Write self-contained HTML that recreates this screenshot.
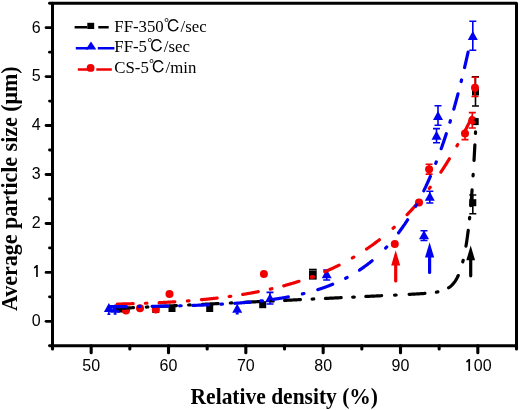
<!DOCTYPE html>
<html><head><meta charset="utf-8"><style>
html,body{margin:0;padding:0;background:#fff;}
body{width:520px;height:410px;overflow:hidden;}
svg{display:block;}
</style></head><body>
<svg width="520" height="410" viewBox="0 0 520 410">
<g><rect x="52.5" y="3.2" width="464.0" height="342.6" fill="none" stroke="#000" stroke-width="3" stroke-linejoin="round"/><path d="M49.5,345.80H52.5" stroke="#000" stroke-width="2.9" stroke-linecap="round"/><path d="M46.1,321.33H52.5" stroke="#000" stroke-width="2.9" stroke-linecap="round"/><path d="M49.5,296.86H52.5" stroke="#000" stroke-width="2.9" stroke-linecap="round"/><path d="M46.1,272.39H52.5" stroke="#000" stroke-width="2.9" stroke-linecap="round"/><path d="M49.5,247.91H52.5" stroke="#000" stroke-width="2.9" stroke-linecap="round"/><path d="M46.1,223.44H52.5" stroke="#000" stroke-width="2.9" stroke-linecap="round"/><path d="M49.5,198.97H52.5" stroke="#000" stroke-width="2.9" stroke-linecap="round"/><path d="M46.1,174.50H52.5" stroke="#000" stroke-width="2.9" stroke-linecap="round"/><path d="M49.5,150.03H52.5" stroke="#000" stroke-width="2.9" stroke-linecap="round"/><path d="M46.1,125.56H52.5" stroke="#000" stroke-width="2.9" stroke-linecap="round"/><path d="M49.5,101.09H52.5" stroke="#000" stroke-width="2.9" stroke-linecap="round"/><path d="M46.1,76.61H52.5" stroke="#000" stroke-width="2.9" stroke-linecap="round"/><path d="M49.5,52.14H52.5" stroke="#000" stroke-width="2.9" stroke-linecap="round"/><path d="M46.1,27.67H52.5" stroke="#000" stroke-width="2.9" stroke-linecap="round"/><path d="M49.5,3.20H52.5" stroke="#000" stroke-width="2.9" stroke-linecap="round"/><path d="M52.50,345.8V349.0" stroke="#000" stroke-width="3.1" stroke-linecap="round"/><path d="M91.17,345.8V352.7" stroke="#000" stroke-width="3.1" stroke-linecap="round"/><path d="M129.83,345.8V349.0" stroke="#000" stroke-width="3.1" stroke-linecap="round"/><path d="M168.50,345.8V352.7" stroke="#000" stroke-width="3.1" stroke-linecap="round"/><path d="M207.17,345.8V349.0" stroke="#000" stroke-width="3.1" stroke-linecap="round"/><path d="M245.83,345.8V352.7" stroke="#000" stroke-width="3.1" stroke-linecap="round"/><path d="M284.50,345.8V349.0" stroke="#000" stroke-width="3.1" stroke-linecap="round"/><path d="M323.17,345.8V352.7" stroke="#000" stroke-width="3.1" stroke-linecap="round"/><path d="M361.83,345.8V349.0" stroke="#000" stroke-width="3.1" stroke-linecap="round"/><path d="M400.50,345.8V352.7" stroke="#000" stroke-width="3.1" stroke-linecap="round"/><path d="M439.16,345.8V349.0" stroke="#000" stroke-width="3.1" stroke-linecap="round"/><path d="M477.83,345.8V352.7" stroke="#000" stroke-width="3.1" stroke-linecap="round"/><path d="M516.50,345.8V349.0" stroke="#000" stroke-width="3.1" stroke-linecap="round"/></g>
<g font-family="'Liberation Sans', Arial, sans-serif" font-size="16" fill="#000"><text x="40.7" y="326.1" text-anchor="end">0</text><text x="41.5" y="277.2" text-anchor="end"><tspan font-family="NanumGothic, sans-serif" font-weight="bold">1</tspan></text><text x="40.7" y="228.2" text-anchor="end">2</text><text x="40.7" y="179.3" text-anchor="end">3</text><text x="40.7" y="130.4" text-anchor="end">4</text><text x="40.7" y="81.4" text-anchor="end">5</text><text x="40.7" y="32.5" text-anchor="end">6</text><text x="91.2" y="370.7" text-anchor="middle">50</text><text x="168.5" y="370.7" text-anchor="middle">60</text><text x="245.8" y="370.7" text-anchor="middle">70</text><text x="323.2" y="370.7" text-anchor="middle">80</text><text x="400.5" y="370.7" text-anchor="middle">90</text><text x="477.8" y="370.7" text-anchor="middle"><tspan font-family="NanumGothic, sans-serif" font-weight="bold">1</tspan>00</text></g>
<text transform="translate(284.3,403.7) scale(1,1.06)" text-anchor="middle" font-family="'Liberation Serif', 'Times New Roman', serif" font-weight="bold" font-size="21.5">Relative density (%)</text>
<text transform="translate(17.3,188.6) rotate(-90) scale(1,1.08)" text-anchor="middle" font-family="'Liberation Serif', 'Times New Roman', serif" font-weight="bold" font-size="22">Average particle size (μm)</text>
<g>
<path d="M74.6,27.2H87.3M98.3,27.2H108.7" stroke="#000" stroke-width="2.4"/>
<rect x="87.3" y="22.8" width="6.9" height="6.2" fill="#000"/>
<path d="M75.8,48.2H88M97.8,48.2H114.4" stroke="#0000f0" stroke-width="2.4"/>
<path d="M91,41.4L96.3,49.5L85.7,49.5Z" fill="#0000f0"/>
<path d="M77.8,69.5H94M96.3,69.5H111.8" stroke="#f00000" stroke-width="2.4"/>
<circle cx="90.6" cy="67.9" r="3.9" fill="#f00000"/>
</g>
<g font-family="'Liberation Serif', 'Times New Roman', 'IPAGothic', serif" font-size="16.8" fill="#000">
<text x="114.3" y="31.6">FF-350<tspan font-family="'IPAGothic', sans-serif">℃</tspan>/sec</text>
<text x="114.3" y="52.2">FF-5<tspan font-family="'IPAGothic', sans-serif">℃</tspan>/sec</text>
<text x="114.3" y="73">CS-5<tspan font-family="'IPAGothic', sans-serif">℃</tspan>/min</text>
</g>
<g><rect x="116.5" y="305.5" width="7" height="7" fill="#000"/>
<rect x="152.3" y="306.0" width="7" height="7" fill="#000"/>
<rect x="168.5" y="305.0" width="7" height="7" fill="#000"/>
<rect x="206.2" y="305.0" width="7" height="7" fill="#000"/>
<rect x="259.2" y="301.2" width="7" height="7" fill="#000"/>
<path d="M469.3,195.0H476.3M472.8,195.0V213.7M469.3,213.7H476.3" stroke="#000" stroke-width="1.6" fill="none"/>
<rect x="469.3" y="199.2" width="7" height="7" fill="#000"/>
<path d="M472.0,76.7H479.0M475.5,76.7V106.0M472.0,106.0H479.0" stroke="#000" stroke-width="1.6" fill="none"/>
<rect x="472.0" y="88.5" width="7" height="7" fill="#000"/>
<rect x="471.7" y="118.1" width="7" height="7" fill="#000"/>
<circle cx="126.0" cy="310.5" r="4" fill="#f00000"/>
<circle cx="140.0" cy="308.2" r="4" fill="#f00000"/>
<circle cx="155.8" cy="309.5" r="4" fill="#f00000"/>
<circle cx="169.5" cy="294.1" r="4" fill="#f00000"/>
<circle cx="263.9" cy="274.1" r="4" fill="#f00000"/>
<circle cx="394.8" cy="244.1" r="4" fill="#f00000"/>
<circle cx="419.0" cy="202.5" r="4" fill="#f00000"/>
<path d="M425.6,164.3H432.6M429.1,164.3V174.1M425.6,174.1H432.6" stroke="#f00000" stroke-width="1.6" fill="none"/>
<circle cx="429.1" cy="169.3" r="4" fill="#f00000"/>
<path d="M461.5,133.4H468.5M465.0,133.4V139.6M461.5,139.6H468.5" stroke="#f00000" stroke-width="1.6" fill="none"/>
<circle cx="465.0" cy="133.4" r="4" fill="#f00000"/>
<path d="M468.8,112.6H475.8M472.3,112.6V128.0M468.8,128.0H475.8" stroke="#f00000" stroke-width="1.6" fill="none"/>
<circle cx="472.3" cy="120.3" r="4" fill="#f00000"/>
<path d="M471.5,77.2H478.5M475.0,77.2V96.5M471.5,96.5H478.5" stroke="#f00000" stroke-width="1.6" fill="none"/>
<circle cx="475.0" cy="87.7" r="4" fill="#f00000"/>
<path d="M107.4,307.6H110.4M108.9,307.6V314.3M107.4,314.3H110.4" stroke="#0000f0" stroke-width="1.6" fill="none"/>
<path d="M108.9,303.1L113.9,312.1L103.9,312.1Z" fill="#0000f0"/>
<path d="M113.6,308.2H116.6M115.1,308.2V314.0M113.6,314.0H116.6" stroke="#0000f0" stroke-width="1.6" fill="none"/>
<path d="M115.1,303.7L120.1,312.7L110.1,312.7Z" fill="#0000f0"/>
<path d="M235.7,308.2H238.7M237.2,308.2V313.8M235.7,313.8H238.7" stroke="#0000f0" stroke-width="1.6" fill="none"/>
<path d="M237.2,303.7L242.2,312.7L232.2,312.7Z" fill="#0000f0"/>
<path d="M266.5,292.4H273.5M270.0,292.4V304.0M266.5,304.0H273.5" stroke="#0000f0" stroke-width="1.6" fill="none"/>
<path d="M270.0,293.2L275.0,302.2L265.0,302.2Z" fill="#0000f0"/>
<path d="M323.2,270.0H330.2M326.7,270.0V280.0M323.2,280.0H330.2" stroke="#0000f0" stroke-width="1.6" fill="none"/>
<path d="M326.7,269.3L331.7,278.3L321.7,278.3Z" fill="#0000f0"/>
<path d="M420.5,230.7H427.5M424.0,230.7V240.5M420.5,240.5H427.5" stroke="#0000f0" stroke-width="1.6" fill="none"/>
<path d="M424.0,230.3L429.0,239.3L419.0,239.3Z" fill="#0000f0"/>
<path d="M426.3,191.3H433.3M429.8,191.3V203.0M426.3,203.0H433.3" stroke="#0000f0" stroke-width="1.6" fill="none"/>
<path d="M429.8,191.8L434.8,200.8L424.8,200.8Z" fill="#0000f0"/>
<path d="M433.0,128.6H440.0M436.5,128.6V142.7M433.0,142.7H440.0" stroke="#0000f0" stroke-width="1.6" fill="none"/>
<path d="M436.5,130.8L441.5,139.8L431.5,139.8Z" fill="#0000f0"/>
<path d="M434.5,105.7H441.5M438.0,105.7V125.2M434.5,125.2H441.5" stroke="#0000f0" stroke-width="1.6" fill="none"/>
<path d="M438.0,111.0L443.0,120.0L433.0,120.0Z" fill="#0000f0"/>
<path d="M469.3,21.3H476.3M472.8,21.3V50.2M469.3,50.2H476.3" stroke="#0000f0" stroke-width="1.6" fill="none"/>
<path d="M472.8,31.0L477.8,40.0L467.8,40.0Z" fill="#0000f0"/>
<rect x="309" y="268.7" width="7.7" height="10.9" fill="#000"/><rect x="309" y="270.1" width="7.7" height="0.7" fill="#777"/><ellipse cx="312.6" cy="277" rx="2.6" ry="2" fill="#d00010"/>
<path d="M117.70,308.42 L117.79,308.42 L118.16,308.40 L118.52,308.39 L118.88,308.37 L119.24,308.35 L119.60,308.33 L119.97,308.32 L120.33,308.30 L120.69,308.28 L121.05,308.26 L121.42,308.25 L121.78,308.23 L122.14,308.21 L122.50,308.19 L122.86,308.18 L123.23,308.16 L123.59,308.14 L123.95,308.12 L124.31,308.11 L124.67,308.09 L125.04,308.07 L125.40,308.05 L125.76,308.04 L126.12,308.02 L126.48,308.00 L126.85,307.98 L127.21,307.97 L127.57,307.95 L127.93,307.93 L128.29,307.91 L128.66,307.90 L129.02,307.88 L129.38,307.86 L129.74,307.84 L130.10,307.83 L130.47,307.81 L130.83,307.79 L131.19,307.78 L131.55,307.76 L131.91,307.74 L132.28,307.72 L132.64,307.71 L133.00,307.69 L133.36,307.67 L133.49,307.66 M146.28,307.05 L146.40,307.04 L146.76,307.03 L147.12,307.01 L147.48,306.99 L147.84,306.97 L147.87,306.97 M160.67,306.36 L160.76,306.35 L161.12,306.33 L161.48,306.32 L161.84,306.30 L162.20,306.28 L162.57,306.26 L162.93,306.25 L163.29,306.23 L163.65,306.21 L164.02,306.19 L164.38,306.18 L164.74,306.16 L165.10,306.14 L165.46,306.12 L165.83,306.11 L166.19,306.09 L166.55,306.07 L166.91,306.05 L167.27,306.04 L167.64,306.02 L168.00,306.00 L168.36,305.98 L168.72,305.97 L169.08,305.95 L169.45,305.93 L169.81,305.91 L170.17,305.90 L170.53,305.88 L170.89,305.86 L171.26,305.85 L171.62,305.83 L171.98,305.81 L172.34,305.79 L172.70,305.78 L173.07,305.76 L173.43,305.74 L173.79,305.72 L174.15,305.71 L174.51,305.69 L174.88,305.67 L175.24,305.65 L175.60,305.64 L175.96,305.62 L176.32,305.60 L176.45,305.59 M188.63,305.01 L188.75,305.00 L189.12,304.98 L189.48,304.97 L189.84,304.95 L190.20,304.93 L190.23,304.93 M202.42,304.34 L202.51,304.34 L202.87,304.32 L203.24,304.30 L203.60,304.29 L203.96,304.27 L204.32,304.25 L204.68,304.23 L205.05,304.22 L205.41,304.20 L205.77,304.18 L206.13,304.16 L206.49,304.15 L206.86,304.13 L207.22,304.11 L207.58,304.10 L207.94,304.08 L208.30,304.06 L208.67,304.04 L209.03,304.03 L209.39,304.01 L209.75,303.99 L210.11,303.97 L210.48,303.96 L210.84,303.94 L211.20,303.92 L211.56,303.90 L211.92,303.89 L212.29,303.87 L212.65,303.85 L213.01,303.83 L213.37,303.82 L213.74,303.80 L214.10,303.78 L214.46,303.76 L214.82,303.75 L215.18,303.73 L215.55,303.71 L215.91,303.69 L216.27,303.68 L216.63,303.66 L216.99,303.64 L217.36,303.62 L217.72,303.61 L218.08,303.59 L218.20,303.58 M230.27,303.00 L230.39,303.00 L230.75,302.98 L231.11,302.96 L231.47,302.94 L231.84,302.93 L231.87,302.93 M243.93,302.34 L244.03,302.34 L244.39,302.32 L244.75,302.30 L245.11,302.29 L245.47,302.27 L245.84,302.25 L246.20,302.23 L246.56,302.22 L246.92,302.20 L247.28,302.18 L247.65,302.17 L248.01,302.15 L248.37,302.13 L248.73,302.11 L249.09,302.10 L249.46,302.08 L249.82,302.06 L250.18,302.04 L250.54,302.03 L250.90,302.01 L251.27,301.99 L251.63,301.97 L251.99,301.96 L252.35,301.94 L252.71,301.92 L253.08,301.90 L253.44,301.89 L253.80,301.87 L254.16,301.85 L254.52,301.83 L254.89,301.82 L255.25,301.80 L255.61,301.78 L255.97,301.76 L256.33,301.75 L256.70,301.73 L257.06,301.71 L257.42,301.69 L257.78,301.68 L258.15,301.66 L258.51,301.64 L258.87,301.62 L259.23,301.61 L259.59,301.59 L259.72,301.58 M271.36,301.02 L271.42,301.02 L271.78,301.00 L272.14,300.99 L272.51,300.97 L272.87,300.95 L272.96,300.95 M284.60,300.38 L284.69,300.38 L285.06,300.36 L285.42,300.35 L285.78,300.33 L286.14,300.31 L286.50,300.29 L286.87,300.28 L287.23,300.26 L287.59,300.24 L287.95,300.22 L288.32,300.21 L288.68,300.19 L289.04,300.17 L289.40,300.15 L289.76,300.14 L290.13,300.12 L290.49,300.10 L290.85,300.08 L291.21,300.07 L291.57,300.05 L291.94,300.03 L292.30,300.01 L292.66,300.00 L293.02,299.98 L293.38,299.96 L293.75,299.94 L294.11,299.93 L294.47,299.91 L294.83,299.89 L295.19,299.87 L295.56,299.86 L295.92,299.84 L296.28,299.82 L296.64,299.80 L297.00,299.79 L297.37,299.77 L297.73,299.75 L298.09,299.74 L298.45,299.72 L298.81,299.70 L299.18,299.68 L299.54,299.67 L299.90,299.65 L300.26,299.63 L300.39,299.62 M312.09,299.06 L312.21,299.06 L312.57,299.04 L312.93,299.02 L313.30,299.00 L313.66,298.99 L313.69,298.98 M325.39,298.42 L325.48,298.42 L325.85,298.40 L326.21,298.38 L326.57,298.36 L326.93,298.35 L327.29,298.33 L327.66,298.31 L328.02,298.29 L328.38,298.28 L328.74,298.26 L329.10,298.24 L329.47,298.22 L329.83,298.21 L330.19,298.19 L330.55,298.17 L330.92,298.15 L331.28,298.14 L331.64,298.12 L332.00,298.10 L332.36,298.08 L332.73,298.07 L333.09,298.05 L333.45,298.03 L333.81,298.01 L334.17,298.00 L334.54,297.98 L334.90,297.96 L335.26,297.94 L335.62,297.93 L335.98,297.91 L336.35,297.89 L336.71,297.87 L337.07,297.86 L337.43,297.84 L337.79,297.82 L338.16,297.81 L338.52,297.79 L338.88,297.77 L339.24,297.75 L339.60,297.74 L339.97,297.72 L340.33,297.70 L340.69,297.68 L341.05,297.67 L341.17,297.66 M352.70,297.10 L352.76,297.10 L353.12,297.08 L353.48,297.07 L353.84,297.05 L354.21,297.03 L354.30,297.03 M365.82,296.47 L365.91,296.47 L366.27,296.45 L366.64,296.43 L367.00,296.42 L367.36,296.40 L367.72,296.38 L368.08,296.36 L368.45,296.35 L368.81,296.33 L369.17,296.31 L369.53,296.29 L369.89,296.28 L370.26,296.26 L370.62,296.24 L370.98,296.22 L371.34,296.21 L371.70,296.19 L372.07,296.17 L372.43,296.15 L372.79,296.14 L373.15,296.12 L373.51,296.10 L373.88,296.08 L374.24,296.07 L374.60,296.05 L374.96,296.03 L375.33,296.01 L375.69,296.00 L376.05,295.98 L376.41,295.96 L376.77,295.94 L377.14,295.93 L377.50,295.91 L377.86,295.89 L378.22,295.87 L378.58,295.86 L378.95,295.84 L379.31,295.82 L379.67,295.80 L380.03,295.79 L380.39,295.77 L380.76,295.75 L381.12,295.73 L381.48,295.72 L381.60,295.71 M394.57,295.08 L394.63,295.08 L395.00,295.06 L395.36,295.05 L395.72,295.03 L396.08,295.01 L396.17,295.01 M409.14,294.36 L409.24,294.35 L409.60,294.34 L409.96,294.32 L410.32,294.30 L410.68,294.28 L411.05,294.26 L411.41,294.24 L411.77,294.22 L412.13,294.20 L412.49,294.18 L412.86,294.16 L413.22,294.14 L413.58,294.12 L413.94,294.11 L414.30,294.09 L414.67,294.07 L415.03,294.05 L415.39,294.02 L415.75,294.00 L416.11,293.98 L416.48,293.96 L416.84,293.94 L417.20,293.92 L417.56,293.90 L417.93,293.88 L418.29,293.86 L418.65,293.84 L419.01,293.81 L419.37,293.79 L419.74,293.77 L420.10,293.75 L420.46,293.72 L420.82,293.70 L421.18,293.68 L421.55,293.65 L421.91,293.63 L422.27,293.61 L422.63,293.58 L422.99,293.56 L423.36,293.53 L423.72,293.51 L424.08,293.48 L424.44,293.45 L424.80,293.43 L424.92,293.42 M436.35,292.14 L436.39,292.14 L436.75,292.07 L437.11,292.01 L437.48,291.94 L437.84,291.87 L437.92,291.85 M448.62,287.82 L448.70,287.76 L449.06,287.52 L449.42,287.26 L449.78,286.99 L450.15,286.71 L450.51,286.41 L450.87,286.10 L451.23,285.78 L451.59,285.44 L451.96,285.09 L452.32,284.72 L452.68,284.33 L453.04,283.93 L453.40,283.51 L453.77,283.06 L454.13,282.60 L454.49,282.11 L454.85,281.61 L455.22,281.07 L455.58,280.52 L455.94,279.93 L456.30,279.32 L456.66,278.68 L457.03,278.01 L457.39,277.31 L457.75,276.57 L458.11,275.80 L458.23,275.55 M462.79,261.83 L462.82,261.71 L462.94,261.23 L463.06,260.73 L463.17,260.28 M465.98,246.09 L466.08,245.50 L466.44,243.24 L466.80,240.87 L467.16,238.38 L467.52,235.78 L467.89,233.05 L468.22,230.45 M469.54,218.83 L469.58,218.44 L469.70,217.27 L469.70,217.24 M470.80,205.61 L470.90,204.48 L471.27,200.23 L471.63,195.78 L471.99,191.11 L472.08,189.86 M473.06,175.99 L473.08,175.70 L473.16,174.39 M474.01,160.51 L474.04,160.04 L474.40,153.64 L474.77,146.93 L474.88,144.73 M475.45,133.42 L475.49,132.51 L475.52,131.82 M476.04,120.51 L476.09,119.40" fill="none" stroke="#000" stroke-width="3.2" stroke-linecap="round" stroke-linejoin="round"/>
<path d="M117.34,304.08 L117.41,304.07 L117.77,304.07 L118.13,304.06 L118.49,304.05 L118.85,304.05 L119.21,304.04 L119.57,304.03 L119.93,304.02 L120.28,304.01 L120.64,304.01 L121.00,304.00 L121.36,303.99 L121.72,303.98 L122.08,303.97 L122.44,303.97 L122.80,303.96 L123.16,303.95 L123.52,303.94 L123.87,303.93 L124.23,303.92 L124.59,303.92 L124.95,303.91 L125.31,303.90 L125.67,303.89 L126.03,303.88 L126.39,303.87 L126.75,303.86 L127.10,303.85 L127.46,303.84 L127.82,303.83 L128.18,303.82 L128.54,303.81 L128.90,303.80 L129.26,303.80 L129.62,303.79 L129.98,303.78 L130.34,303.77 L130.69,303.76 L131.05,303.75 L131.41,303.74 L131.77,303.72 L132.13,303.71 L132.49,303.70 L132.85,303.69 L133.13,303.68 M145.32,303.27 L145.41,303.27 L145.77,303.26 L146.13,303.24 L146.49,303.23 L146.85,303.21 L146.91,303.21 M159.09,302.67 L159.17,302.67 L159.53,302.65 L159.89,302.63 L160.25,302.61 L160.61,302.60 L160.97,302.58 L161.32,302.56 L161.68,302.54 L162.04,302.52 L162.40,302.50 L162.76,302.49 L163.12,302.47 L163.48,302.45 L163.84,302.43 L164.20,302.41 L164.55,302.39 L164.91,302.37 L165.27,302.35 L165.63,302.33 L165.99,302.31 L166.35,302.29 L166.71,302.27 L167.07,302.25 L167.43,302.23 L167.78,302.21 L168.14,302.19 L168.50,302.17 L168.86,302.15 L169.22,302.13 L169.58,302.11 L169.94,302.09 L170.30,302.06 L170.66,302.04 L171.02,302.02 L171.37,302.00 L171.73,301.98 L172.09,301.96 L172.45,301.93 L172.81,301.91 L173.17,301.89 L173.53,301.87 L173.89,301.85 L174.25,301.82 L174.60,301.80 L174.87,301.78 M187.37,300.90 L187.41,300.90 L187.77,300.87 L188.13,300.84 L188.48,300.81 L188.84,300.79 L188.96,300.78 M201.44,299.69 L201.53,299.68 L201.88,299.65 L202.24,299.62 L202.60,299.58 L202.96,299.55 L203.32,299.51 L203.68,299.48 L204.04,299.44 L204.40,299.41 L204.76,299.37 L205.12,299.33 L205.47,299.30 L205.83,299.26 L206.19,299.23 L206.55,299.19 L206.91,299.15 L207.27,299.12 L207.63,299.08 L207.99,299.04 L208.35,299.00 L208.70,298.97 L209.06,298.93 L209.42,298.89 L209.78,298.85 L210.14,298.81 L210.50,298.78 L210.86,298.74 L211.22,298.70 L211.58,298.66 L211.94,298.62 L212.29,298.58 L212.65,298.54 L213.01,298.50 L213.37,298.46 L213.73,298.42 L214.09,298.38 L214.45,298.34 L214.81,298.30 L215.17,298.26 L215.52,298.22 L215.88,298.18 L216.24,298.13 L216.60,298.09 L216.96,298.05 L217.16,298.03 M229.16,296.50 L229.16,296.50 L229.52,296.45 L229.88,296.40 L230.24,296.35 L230.60,296.30 L230.74,296.28 M242.71,294.46 L242.80,294.45 L243.16,294.39 L243.52,294.33 L243.88,294.27 L244.24,294.21 L244.60,294.15 L244.96,294.09 L245.32,294.03 L245.68,293.97 L246.03,293.91 L246.39,293.85 L246.75,293.79 L247.11,293.72 L247.47,293.66 L247.83,293.60 L248.19,293.54 L248.55,293.47 L248.91,293.41 L249.27,293.35 L249.62,293.28 L249.98,293.22 L250.34,293.16 L250.70,293.09 L251.06,293.03 L251.42,292.96 L251.78,292.90 L252.14,292.83 L252.50,292.76 L252.85,292.70 L253.21,292.63 L253.57,292.56 L253.93,292.50 L254.29,292.43 L254.65,292.36 L255.01,292.29 L255.37,292.23 L255.73,292.16 L256.09,292.09 L256.44,292.02 L256.80,291.95 L257.16,291.88 L257.52,291.81 L257.88,291.74 L258.24,291.67 L258.26,291.66 M270.32,289.10 L270.32,289.10 L270.68,289.01 L271.04,288.93 L271.40,288.85 L271.76,288.76 L271.87,288.74 M283.83,285.75 L283.84,285.74 L284.20,285.65 L284.56,285.55 L284.92,285.45 L285.28,285.36 L285.64,285.26 L286.00,285.16 L286.36,285.06 L286.72,284.96 L287.07,284.86 L287.43,284.76 L287.79,284.66 L288.15,284.56 L288.51,284.46 L288.87,284.36 L289.23,284.26 L289.59,284.15 L289.95,284.05 L290.30,283.95 L290.66,283.84 L291.02,283.74 L291.38,283.63 L291.74,283.53 L292.10,283.42 L292.46,283.32 L292.82,283.21 L293.18,283.10 L293.54,283.00 L293.89,282.89 L294.25,282.78 L294.61,282.67 L294.97,282.56 L295.33,282.45 L295.69,282.34 L296.05,282.23 L296.41,282.12 L296.77,282.01 L297.12,281.90 L297.48,281.79 L297.84,281.67 L298.20,281.56 L298.56,281.45 L298.92,281.33 L299.00,281.31 M311.26,277.10 L311.36,277.07 L311.72,276.94 L312.08,276.80 L312.44,276.67 L312.76,276.55 M324.80,271.74 L324.88,271.70 L325.24,271.55 L325.60,271.39 L325.96,271.24 L326.32,271.08 L326.68,270.93 L327.04,270.77 L327.40,270.61 L327.75,270.46 L328.11,270.30 L328.47,270.14 L328.83,269.98 L329.19,269.82 L329.55,269.65 L329.91,269.49 L330.27,269.33 L330.63,269.17 L330.99,269.00 L331.34,268.84 L331.70,268.67 L332.06,268.51 L332.42,268.34 L332.78,268.17 L333.14,268.01 L333.50,267.84 L333.86,267.67 L334.22,267.50 L334.57,267.33 L334.93,267.16 L335.29,266.98 L335.65,266.81 L336.01,266.64 L336.37,266.46 L336.73,266.29 L337.09,266.11 L337.45,265.94 L337.81,265.76 L338.16,265.58 L338.52,265.40 L338.88,265.23 L339.14,265.10 M352.40,257.94 L352.52,257.87 L352.88,257.66 L353.24,257.45 L353.60,257.24 L353.79,257.13 M366.53,249.09 L366.64,249.01 L367.00,248.77 L367.36,248.53 L367.72,248.28 L368.08,248.03 L368.44,247.79 L368.79,247.54 L369.15,247.29 L369.51,247.04 L369.87,246.79 L370.23,246.54 L370.59,246.28 L370.95,246.03 L371.31,245.77 L371.67,245.52 L372.02,245.26 L372.38,245.00 L372.74,244.74 L373.10,244.48 L373.46,244.22 L373.82,243.96 L374.18,243.70 L374.54,243.43 L374.90,243.17 L375.26,242.90 L375.61,242.63 L375.97,242.36 L376.33,242.09 L376.69,241.82 L377.05,241.55 L377.41,241.28 L377.77,241.01 L378.13,240.73 L378.49,240.46 L378.84,240.18 L379.20,239.90 L379.32,239.81 M393.09,228.28 L393.20,228.18 L393.56,227.86 L393.92,227.53 L394.27,227.21 M407.11,214.65 L407.20,214.56 L407.56,214.18 L407.92,213.80 L408.28,213.42 L408.64,213.04 L409.00,212.66 L409.35,212.28 L409.71,211.89 L410.07,211.50 L410.43,211.11 L410.79,210.72 L411.15,210.33 L411.51,209.94 L411.87,209.55 L412.23,209.15 L412.59,208.75 L412.94,208.35 L413.30,207.95 L413.66,207.55 L414.02,207.15 L414.38,206.74 L414.74,206.33 L415.10,205.93 L415.46,205.52 L415.82,205.10 L416.17,204.69 L416.53,204.28 L416.89,203.86 L417.25,203.44 L417.61,203.02 L417.70,202.92 M429.26,188.50 L429.34,188.40 L429.69,187.93 L430.05,187.45 L430.22,187.22 M440.88,172.12 L440.94,172.02 L441.30,171.48 L441.66,170.94 L442.02,170.40 L442.38,169.85 L442.74,169.31 L443.10,168.76 L443.45,168.21 L443.81,167.65 L444.17,167.10 L444.53,166.54 L444.89,165.98 L445.25,165.41 L445.61,164.85 L445.97,164.28 L446.33,163.72 L446.69,163.14 L447.04,162.57 L447.40,162.00 L447.76,161.42 L448.12,160.84 L448.48,160.26 L448.84,159.67 L449.20,159.09 L449.37,158.80 M456.92,145.92 L456.97,145.82 L457.33,145.18 L457.69,144.54 L457.70,144.53 M464.77,131.38 L464.87,131.19 L465.23,130.50 L465.59,129.80 L465.95,129.10 L466.31,128.40 L466.67,127.69 L467.03,126.99 L467.38,126.28 L467.74,125.56 L468.10,124.85 L468.46,124.13 L468.82,123.41 L469.18,122.69 L469.54,121.96 L469.90,121.23 L470.26,120.50 L470.61,119.76 L470.97,119.02 L471.33,118.28 L471.69,117.54 L471.83,117.25" fill="none" stroke="#f00000" stroke-width="3.2" stroke-linecap="round" stroke-linejoin="round"/>
<path d="M110.63,306.71 L110.74,306.71 L111.11,306.71 L111.47,306.70 L111.84,306.70 L112.20,306.70 L112.57,306.70 L112.94,306.70 L113.30,306.69 L113.67,306.69 L114.03,306.69 L114.40,306.69 L114.77,306.69 L115.13,306.68 L115.50,306.68 L115.86,306.68 L116.23,306.68 L116.60,306.67 L116.96,306.67 L117.33,306.67 L117.69,306.67 L118.06,306.66 L118.43,306.66 L118.79,306.66 L119.16,306.66 L119.52,306.65 L119.89,306.65 L120.25,306.65 L120.62,306.65 L120.99,306.64 L121.35,306.64 L121.72,306.64 L122.08,306.64 L122.45,306.63 L122.82,306.63 L123.18,306.63 L123.55,306.62 L123.91,306.62 L124.28,306.62 L124.65,306.62 L125.01,306.61 L125.38,306.61 L125.74,306.61 L126.11,306.60 L126.43,306.60 M138.47,306.49 L138.55,306.49 L138.92,306.48 L139.28,306.48 L139.65,306.47 L140.01,306.47 L140.07,306.47 M152.10,306.32 L152.21,306.31 L152.58,306.31 L152.94,306.30 L153.31,306.30 L153.67,306.29 L154.04,306.29 L154.41,306.28 L154.77,306.28 L155.14,306.27 L155.50,306.26 L155.87,306.26 L156.24,306.25 L156.60,306.25 L156.97,306.24 L157.33,306.24 L157.70,306.23 L158.07,306.22 L158.43,306.22 L158.80,306.21 L159.16,306.21 L159.53,306.20 L159.89,306.19 L160.26,306.19 L160.63,306.18 L160.99,306.17 L161.36,306.17 L161.72,306.16 L162.09,306.16 L162.46,306.15 L162.82,306.14 L163.19,306.14 L163.55,306.13 L163.92,306.12 L164.29,306.12 L164.65,306.11 L165.02,306.10 L165.38,306.09 L165.75,306.09 L166.12,306.08 L166.48,306.07 L166.85,306.07 L167.21,306.06 L167.58,306.05 L167.90,306.05 M179.57,305.78 L179.65,305.78 L180.02,305.77 L180.39,305.76 L180.75,305.75 L181.12,305.74 L181.17,305.74 M192.84,305.40 L192.95,305.40 L193.31,305.39 L193.68,305.37 L194.05,305.36 L194.41,305.35 L194.78,305.34 L195.14,305.32 L195.51,305.31 L195.88,305.30 L196.24,305.29 L196.61,305.27 L196.97,305.26 L197.34,305.25 L197.71,305.23 L198.07,305.22 L198.44,305.21 L198.80,305.20 L199.17,305.18 L199.53,305.17 L199.90,305.15 L200.27,305.14 L200.63,305.13 L201.00,305.11 L201.36,305.10 L201.73,305.09 L202.10,305.07 L202.46,305.06 L202.83,305.04 L203.19,305.03 L203.56,305.01 L203.93,305.00 L204.29,304.98 L204.66,304.97 L205.02,304.95 L205.39,304.94 L205.75,304.92 L206.12,304.91 L206.49,304.89 L206.85,304.88 L207.22,304.86 L207.58,304.85 L207.95,304.83 L208.32,304.82 L208.63,304.80 M220.86,304.20 L220.88,304.20 L221.25,304.18 L221.61,304.16 L221.98,304.14 L222.34,304.12 L222.45,304.11 M234.67,303.33 L234.78,303.32 L235.15,303.30 L235.52,303.27 L235.88,303.25 L236.25,303.22 L236.61,303.19 L236.98,303.16 L237.34,303.14 L237.71,303.11 L238.08,303.08 L238.44,303.05 L238.81,303.03 L239.17,303.00 L239.54,302.97 L239.91,302.94 L240.27,302.91 L240.64,302.88 L241.00,302.86 L241.37,302.83 L241.74,302.80 L242.10,302.77 L242.47,302.74 L242.83,302.71 L243.20,302.68 L243.57,302.65 L243.93,302.62 L244.30,302.58 L244.66,302.55 L245.03,302.52 L245.39,302.49 L245.76,302.46 L246.13,302.43 L246.49,302.39 L246.86,302.36 L247.22,302.33 L247.59,302.30 L247.96,302.26 L248.32,302.23 L248.69,302.20 L249.05,302.16 L249.42,302.13 L249.79,302.10 L250.15,302.06 L250.42,302.04 M260.79,300.96 L260.88,300.95 L261.25,300.90 L261.62,300.86 L261.98,300.82 L262.35,300.78 L262.38,300.77 M272.72,299.44 L272.72,299.44 L273.08,299.39 L273.45,299.33 L273.81,299.28 L274.18,299.23 L274.55,299.17 L274.91,299.12 L275.28,299.07 L275.64,299.01 L276.01,298.96 L276.38,298.90 L276.74,298.85 L277.11,298.79 L277.47,298.74 L277.84,298.68 L278.20,298.62 L278.57,298.56 L278.94,298.51 L279.30,298.45 L279.67,298.39 L280.03,298.33 L280.40,298.27 L280.77,298.21 L281.13,298.15 L281.50,298.09 L281.86,298.03 L282.23,297.97 L282.60,297.91 L282.96,297.85 L283.33,297.78 L283.69,297.72 L284.06,297.66 L284.42,297.59 L284.79,297.53 L285.16,297.47 L285.52,297.40 L285.89,297.34 L286.25,297.27 L286.62,297.20 L286.99,297.14 L287.35,297.07 L287.72,297.00 L288.08,296.93 L288.31,296.89 M302.38,293.90 L302.48,293.88 L302.84,293.79 L303.21,293.70 L303.57,293.61 L303.93,293.52 M317.79,289.64 L317.84,289.62 L318.21,289.50 L318.58,289.38 L318.94,289.27 L319.31,289.15 L319.67,289.03 L320.04,288.91 L320.41,288.79 L320.77,288.67 L321.14,288.54 L321.50,288.42 L321.87,288.30 L322.24,288.17 L322.60,288.05 L322.97,287.92 L323.33,287.79 L323.70,287.66 L324.06,287.53 L324.43,287.41 L324.80,287.27 L325.16,287.14 L325.53,287.01 L325.89,286.88 L326.26,286.74 L326.63,286.61 L326.99,286.47 L327.36,286.34 L327.72,286.20 L328.09,286.06 L328.46,285.92 L328.82,285.78 L329.19,285.64 L329.55,285.50 L329.92,285.35 L330.29,285.21 L330.65,285.06 L331.02,284.92 L331.38,284.77 L331.75,284.62 L332.11,284.47 L332.48,284.32 L332.64,284.26 M345.67,278.22 L345.78,278.17 L346.14,277.98 L346.51,277.78 L346.87,277.59 L347.09,277.48 M359.43,270.13 L359.44,270.13 L359.80,269.89 L360.17,269.64 L360.53,269.40 L360.90,269.15 L361.27,268.90 L361.63,268.65 L362.00,268.40 L362.36,268.14 L362.73,267.89 L363.10,267.63 L363.46,267.37 L363.83,267.11 L364.19,266.85 L364.56,266.58 L364.92,266.32 L365.29,266.05 L365.66,265.78 L366.02,265.51 L366.39,265.23 L366.75,264.96 L367.12,264.68 L367.49,264.40 L367.85,264.12 L368.22,263.84 L368.58,263.56 L368.95,263.27 L369.32,262.99 L369.68,262.70 L370.05,262.40 L370.41,262.11 L370.78,261.82 L371.14,261.52 L371.51,261.22 L371.88,260.92 L372.11,260.72 M385.61,248.09 L385.66,248.04 L386.03,247.66 L386.39,247.27 L386.71,246.93 M398.58,232.76 L398.59,232.75 L398.95,232.27 L399.32,231.78 L399.69,231.29 L400.05,230.79 L400.42,230.29 L400.78,229.79 L401.15,229.29 L401.52,228.78 L401.88,228.27 L402.25,227.75 L402.61,227.24 L402.98,226.71 L403.34,226.19 L403.71,225.66 L404.08,225.13 L404.44,224.59 L404.81,224.06 L405.17,223.51 L405.54,222.97 L405.91,222.42 L406.27,221.87 L406.64,221.31 L407.00,220.75 L407.37,220.19 L407.62,219.80 M415.76,206.22 L415.79,206.17 L416.15,205.52 L416.52,204.85 L416.54,204.82 M423.80,190.74 L423.84,190.67 L424.20,189.92 L424.57,189.15 L424.93,188.38 L425.30,187.61 L425.67,186.83 L426.03,186.05 L426.40,185.26 L426.76,184.47 L427.13,183.67 L427.49,182.87 L427.86,182.06 L428.23,181.24 L428.59,180.42 L428.96,179.60 L429.32,178.77 L429.69,177.93 L430.06,177.09 L430.37,176.37 M435.72,163.36 L435.79,163.19 L436.15,162.25 L436.30,161.87 M441.21,148.69 L441.28,148.49 L441.64,147.46 L442.01,146.42 L442.37,145.38 L442.74,144.32 L443.11,143.27 L443.47,142.20 L443.84,141.13 L444.20,140.05 L444.57,138.96 L444.94,137.87 L445.30,136.77 L445.67,135.66 L446.03,134.55 L446.30,133.73 M449.93,122.24 L449.94,122.20 L450.06,121.80 L450.18,121.40 L450.30,121.00 L450.39,120.70 M453.79,109.14 L453.84,108.97 L454.21,107.69 L454.57,106.39 L454.94,105.09 L455.30,103.78 L455.67,102.45 L456.04,101.12 L456.40,99.79 L456.77,98.44 L457.13,97.08 L457.50,95.72 L457.86,94.35 L457.98,93.91 M461.17,81.51 L461.28,81.09 L461.40,80.61 L461.52,80.12 L461.56,79.96 M464.58,67.53 L464.70,67.02 L465.06,65.46 L465.43,63.89 L465.79,62.31 L466.16,60.72 L466.52,59.12 L466.89,57.51 L467.26,55.89 L467.62,54.26 L467.99,52.62 L468.10,52.12" fill="none" stroke="#0000f0" stroke-width="3.2" stroke-linecap="round" stroke-linejoin="round"/>
<path d="M395.7,281.0V265.5" stroke="#f00000" stroke-width="3.2" stroke-linecap="round"/><path d="M395.7,250.2L400.2,265.5L391.2,265.5Z" fill="#f00000"/>
<path d="M429.6,272.5V257.6" stroke="#0000f0" stroke-width="3.2" stroke-linecap="round"/><path d="M429.6,242.3L434.2,257.6L425.0,257.6Z" fill="#0000f0"/>
<path d="M470.7,275.8V260.2" stroke="#000" stroke-width="3.2" stroke-linecap="round"/><path d="M470.7,245.6L475.1,260.2L466.3,260.2Z" fill="#000"/></g>
</svg>
</body></html>
